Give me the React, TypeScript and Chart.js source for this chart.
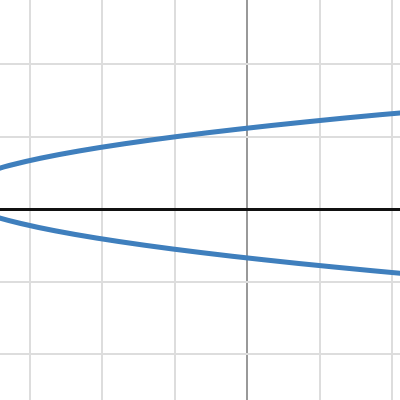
import { useEffect, useRef } from "react";
import { Chart, registerables } from "chart.js";

Chart.register(...registerables);

// points (x, y in graph units)
const curveY = [
  -1.0, -0.9, -0.8, -0.7, -0.6, -0.5, -0.4, -0.3, -0.2, -0.1, 0.0, 0.1, 0.2,
  0.3, 0.4, 0.5, 0.6, 0.7, 0.8, 0.9, 1.0, 1.1, 1.2, 1.3, 1.4,
];
const curveX = [
  3.44, 2.27, 1.2, 0.23, -0.64, -1.41, -2.08, -2.65, -3.12, -3.49, -3.76,
  -3.93, -4.0, -3.97, -3.84, -3.61, -3.28, -2.85, -2.32, -1.69, -0.96, -0.13,
  0.8, 1.83, 2.96,
];

const X_MIN = -3.407;
const X_MAX = 2.11;
const Y_MIN = -2.634;
const Y_MAX = 2.883;

export default function App() {
  const canvasRef = useRef<HTMLCanvasElement | null>(null);

  useEffect(() => {
    const canvas = canvasRef.current;
    if (!canvas) return;
    const chart = new Chart(canvas, {
      type: "scatter",
      data: {
        datasets: [
          {
            data: curveX.map((x, i) => ({ x, y: curveY[i] })),
            showLine: true,
            borderColor: "#3f7fbd",
            borderWidth: 5,
            pointRadius: 0,
            tension: 0.3,
          },
        ],
      },
      options: {
        animation: false,
        responsive: true,
        maintainAspectRatio: false,
        layout: { padding: 0 },
        plugins: { legend: { display: false }, tooltip: { enabled: false } },
        scales: {
          x: {
            type: "linear",
            min: X_MIN,
            max: X_MAX,
            ticks: { display: false, stepSize: 1, includeBounds: false },
            border: { display: false },
            grid: {
              drawTicks: false,
              lineWidth: 2,
              color: (c) => (c.tick && c.tick.value === 0 ? "#999999" : "#dddddd"),
            },
          },
          y: {
            type: "linear",
            min: Y_MIN,
            max: Y_MAX,
            ticks: { display: false, stepSize: 1, includeBounds: false },
            border: { display: false },
            grid: {
              drawTicks: false,
              lineWidth: (c) => (c.tick && c.tick.value === 0 ? 3 : 2),
              color: (c) => (c.tick && c.tick.value === 0 ? "#111111" : "#dddddd"),
            },
          },
        },
      },
    });
    return () => chart.destroy();
  }, []);

  return (
    <div style={{ position: "fixed", left: 0, top: 0, width: 400, height: 400, background: "#fff" }}>
      <canvas ref={canvasRef} />
    </div>
  );
}
